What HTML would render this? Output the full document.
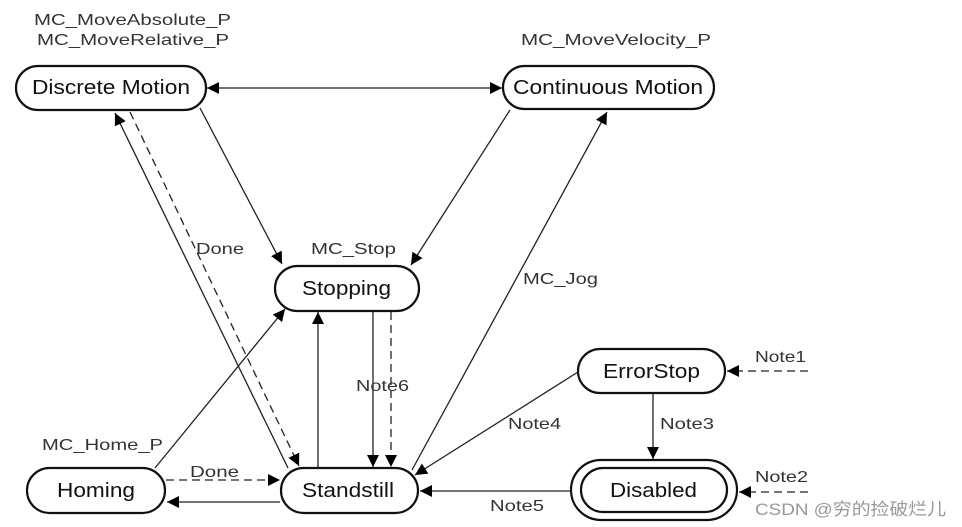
<!DOCTYPE html>
<html><head><meta charset="utf-8"><style>
html,body{margin:0;padding:0;background:#fff;}
svg{display:block;font-family:"Liberation Sans","Noto Sans CJK SC",sans-serif;}
</style></head><body>
<svg width="962" height="527" viewBox="0 0 962 527">
<defs>
<marker id="a" viewBox="0 0 10 10" refX="10" refY="5" markerWidth="12" markerHeight="12" markerUnits="userSpaceOnUse" orient="auto"><path d="M0,0L10,5L0,10z" fill="#000"/></marker>
</defs>
<g stroke="#111" stroke-width="2.2" fill="#fff">
<rect x="16" y="66" width="190" height="44" rx="22"/>
<rect x="503" y="66" width="211" height="43" rx="21.5"/>
<rect x="275" y="266" width="144" height="45" rx="22.5"/>
<rect x="281" y="468" width="137" height="45" rx="22.5"/>
<rect x="27" y="468" width="138" height="45" rx="22.5"/>
<rect x="578" y="349" width="147" height="44" rx="22"/>
<rect x="571" y="460" width="166" height="60" rx="30"/>
<rect x="581" y="468" width="146" height="44" rx="22"/>
</g>
<g stroke="#222" stroke-width="1.3" fill="none" marker-end="url(#a)">
<line x1="260" y1="88" x2="207" y2="88"/>
<line x1="260" y1="88" x2="502" y2="88"/>
<line x1="200" y1="108" x2="282" y2="264"/>
<line x1="510" y1="110" x2="411" y2="265"/>
<line x1="288" y1="468" x2="115" y2="113"/>
<line x1="130" y1="112" x2="299" y2="466" stroke-dasharray="8,5"/>
<line x1="155" y1="468" x2="285" y2="309"/>
<line x1="318" y1="468" x2="318" y2="312"/>
<line x1="373" y1="312" x2="373" y2="467"/>
<line x1="391" y1="312" x2="391" y2="467" stroke-dasharray="8,5"/>
<line x1="412" y1="470" x2="607" y2="112"/>
<line x1="578" y1="372" x2="415" y2="475"/>
<line x1="653" y1="394" x2="653" y2="459"/>
<line x1="570" y1="491" x2="420" y2="491"/>
<line x1="280" y1="502" x2="167" y2="502"/>
<line x1="166" y1="480" x2="280" y2="480" stroke-dasharray="8,5"/>
<line x1="808" y1="371" x2="727" y2="371" stroke-dasharray="8,5"/>
<line x1="808" y1="492" x2="739" y2="492" stroke-dasharray="8,5"/>
</g>
<g font-size="20" fill="#111" lengthAdjust="spacingAndGlyphs">
<text x="32" y="94" textLength="158" lengthAdjust="spacingAndGlyphs">Discrete Motion</text>
<text x="513" y="94" textLength="190" lengthAdjust="spacingAndGlyphs">Continuous Motion</text>
<text x="302" y="295" textLength="89" lengthAdjust="spacingAndGlyphs">Stopping</text>
<text x="302" y="497" textLength="92" lengthAdjust="spacingAndGlyphs">Standstill</text>
<text x="57" y="497" textLength="78" lengthAdjust="spacingAndGlyphs">Homing</text>
<text x="603" y="378" textLength="97" lengthAdjust="spacingAndGlyphs">ErrorStop</text>
<text x="610" y="497" textLength="87" lengthAdjust="spacingAndGlyphs">Disabled</text>
</g>
<g font-size="16" fill="#333">
<text x="34" y="25" textLength="197" lengthAdjust="spacingAndGlyphs">MC_MoveAbsolute_P</text>
<text x="37" y="45" textLength="192" lengthAdjust="spacingAndGlyphs">MC_MoveRelative_P</text>
<text x="521" y="45" textLength="190" lengthAdjust="spacingAndGlyphs">MC_MoveVelocity_P</text>
<text x="196" y="254" textLength="48" lengthAdjust="spacingAndGlyphs">Done</text>
<text x="311" y="254" textLength="85" lengthAdjust="spacingAndGlyphs">MC_Stop</text>
<text x="523" y="284" textLength="75" lengthAdjust="spacingAndGlyphs">MC_Jog</text>
<text x="356" y="391" textLength="53" lengthAdjust="spacingAndGlyphs">Note6</text>
<text x="42" y="450" textLength="121" lengthAdjust="spacingAndGlyphs">MC_Home_P</text>
<text x="190" y="477" textLength="49" lengthAdjust="spacingAndGlyphs">Done</text>
<text x="508" y="429" textLength="53" lengthAdjust="spacingAndGlyphs">Note4</text>
<text x="660" y="429" textLength="54" lengthAdjust="spacingAndGlyphs">Note3</text>
<text x="490" y="511" textLength="54" lengthAdjust="spacingAndGlyphs">Note5</text>
<text x="755" y="362" textLength="51" lengthAdjust="spacingAndGlyphs">Note1</text>
<text x="755" y="482" textLength="53" lengthAdjust="spacingAndGlyphs">Note2</text>
</g>
<text x="755" y="515" font-size="17" fill="#999" textLength="191" lengthAdjust="spacingAndGlyphs">CSDN @穷的捡破烂儿</text>
</svg>
</body></html>
